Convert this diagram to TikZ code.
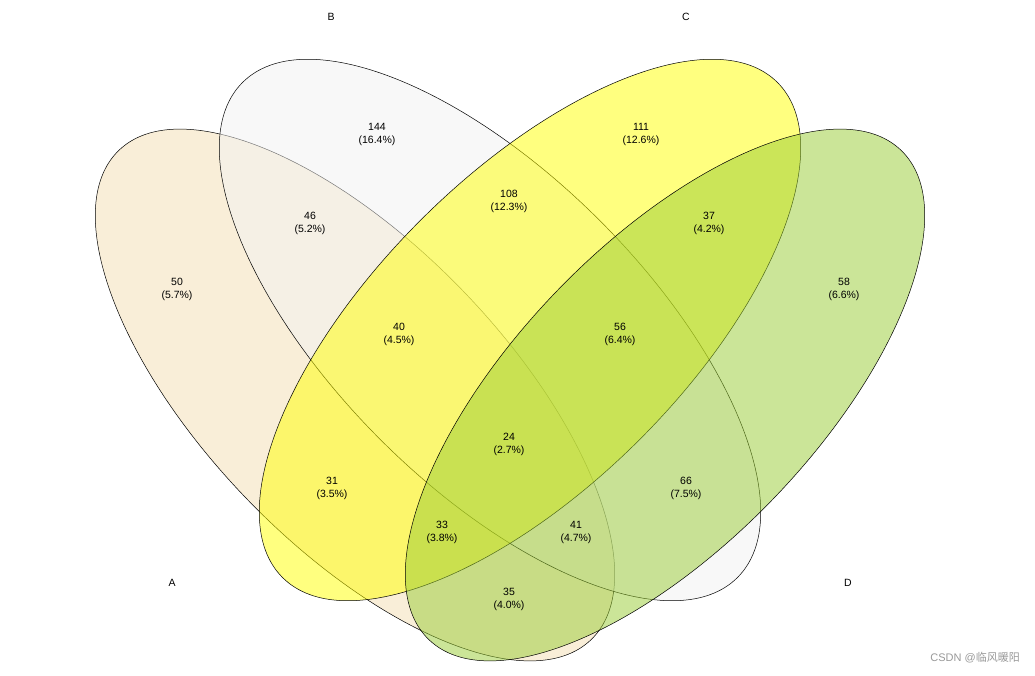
\documentclass[tikz,border=0pt]{standalone}
\usepackage{fontspec}
\setmainfont{Liberation Sans}
\newfontfamily\cjk{Noto Sans CJK SC}
\begin{document}
\begin{tikzpicture}[x=1pt,y=1pt,
  ell/.style={draw=black,line width=0.5pt,fill opacity=0.5},
  lab/.style={font=\fontsize{10.5}{13}\selectfont,align=center,inner sep=0pt}]
\useasboundingbox (0,0) rectangle (1035,676);
\fill[white] (0,0) rectangle (1035,676);
\definecolor{ca}{HTML}{F5DEB3}
\definecolor{cb}{HTML}{F2F2F2}
\definecolor{cc}{HTML}{FFFF00}
\definecolor{cd}{HTML}{99CC33}
\path[ell,fill=ca] (355,281) ellipse[x radius=340,y radius=150,rotate=-46];
\path[ell,fill=cb] (490,346) ellipse[x radius=350,y radius=155,rotate=-45];
\path[ell,fill=cc] (530,346) ellipse[x radius=350,y radius=155,rotate=45];
\path[ell,fill=cd] (665,281) ellipse[x radius=340,y radius=150,rotate=46];
\foreach \n/\x/\y/\t in {a/172/93/A,b/331/659/B,c/686/659/C,d/848/93/D}
  \node[lab] (s\n) at (\x,\y) {\t};
\foreach \n/\x/\y/\t in {
 r1/177/387/{50\\(5.7\%)}, r2/377/542/{144\\(16.4\%)}, r3/641/542/{111\\(12.6\%)},
 r4/844/387/{58\\(6.6\%)}, r5/310/453/{46\\(5.2\%)}, r6/509/475/{108\\(12.3\%)},
 r7/709/453/{37\\(4.2\%)}, r8/399/342/{40\\(4.5\%)}, r9/620/342/{56\\(6.4\%)},
 r10/332/188/{31\\(3.5\%)}, r11/509/232/{24\\(2.7\%)}, r12/686/188/{66\\(7.5\%)},
 r13/442/144/{33\\(3.8\%)}, r14/576/144/{41\\(4.7\%)}, r15/509/77/{35\\(4.0\%)}}
  \node[lab] (\n) at (\x,\y) {\t};
\node[font=\fontsize{11}{13}\selectfont,text=gray!80,anchor=east,inner sep=0pt] (wm) at (1020,18) {CSDN @{\cjk 临风暖阳}};
\end{tikzpicture}
\end{document}
